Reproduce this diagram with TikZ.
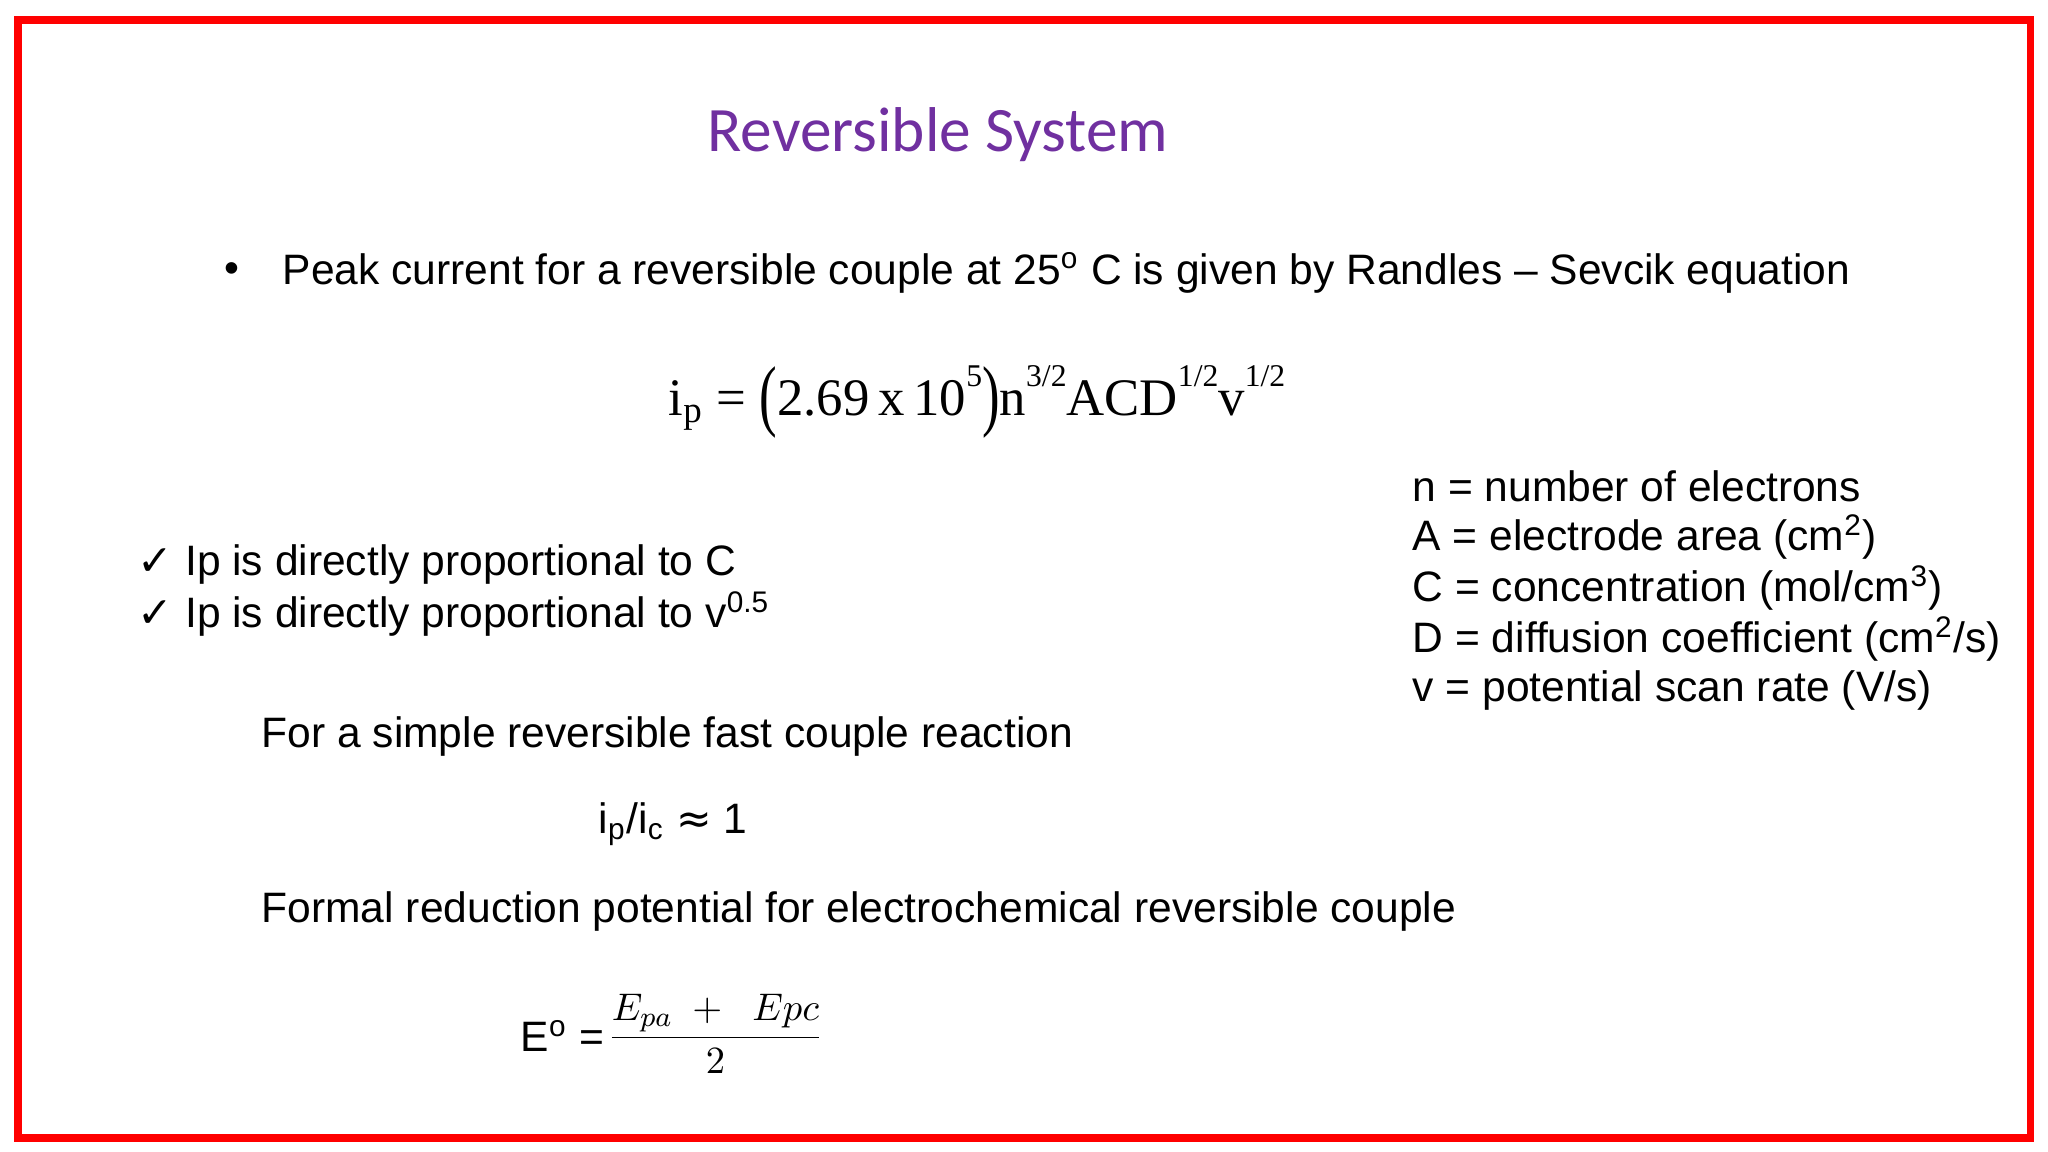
\documentclass[tikz,border=0pt]{standalone}
\usepackage{fontspec}
\setmainfont{Liberation Sans}
\newfontfamily\titlefont{Carlito}
\newfontfamily\eqfont{Liberation Serif}
\newfontfamily\symfont{DejaVu Sans}
\definecolor{ttl}{RGB}{112,48,160}
\newcommand{\smallsup}[1]{\raisebox{0.55em}{\fontsize{9}{10}\selectfont #1}}
\begin{document}
\begin{tikzpicture}[x=0.01cm,y=-0.01cm,
  txt/.style={anchor=west,inner sep=0pt,font=\fontsize{12.1}{14}\selectfont}]
\useasboundingbox (0,0) rectangle (2048,1152);
\draw[red,line width=2pt] (18,20) rectangle (2030,1138);
\node[inner sep=0pt,text=ttl,font=\titlefont\fontsize{18}{21}\selectfont] (title) at (938,135) {Reversible System};
\node[txt] (bul) at (224,273) {\textbullet};
\node[txt] (peak) at (282,273) {Peak current for a reversible couple at 25\textsuperscript{o} C is given by Randles -- Sevcik equation};
\node[inner sep=0pt,font=\eqfont\fontsize{15}{18}\selectfont] (eq) at (977,402)
  {i\textsubscript{p} = \raisebox{-0.12em}{\scalebox{1}[1.5]{(}}2.69\,x\,10\smallsup{5}\raisebox{-0.12em}{\scalebox{1}[1.5]{)}}n\smallsup{3/2}ACD\smallsup{1/2}v\smallsup{1/2}};
\node[txt] (l1) at (1412,486) {n = number of electrons};
\node[txt] (l2) at (1412,537) {A = electrode area (cm\textsuperscript{2})};
\node[txt] (l3) at (1412,588) {C = concentration (mol/cm\textsuperscript{3})};
\node[txt] (l4) at (1412,639) {D = diffusion coefficient (cm\textsuperscript{2}/s)};
\node[txt] (l5) at (1412,690) {v = potential scan rate (V/s)};
\node[txt] (c1) at (137,564) {{\symfont ✓} Ip is directly proportional to C};
\node[txt] (c2) at (137,614) {{\symfont ✓} Ip is directly proportional to v\textsuperscript{0.5}};
\node[txt] (simple) at (261,736) {For a simple reversible fast couple reaction};
\node[txt] (ratio) at (598,824) {i\textsubscript{p}/i\textsubscript{c} {\symfont ≈} 1};
\node[txt] (formal) at (261,911) {Formal reduction potential for electrochemical reversible couple};
\node[txt] (E0) at (520,1036) {E\textsuperscript{o} =};
\node[inner sep=0pt,anchor=west,font=\fontsize{11}{14}\selectfont] (frac) at (607,1034)
  {$\displaystyle\frac{E_{pa}\ +\ \ Epc}{\phantom{m}2\phantom{m}}$};
\end{tikzpicture}
\end{document}
